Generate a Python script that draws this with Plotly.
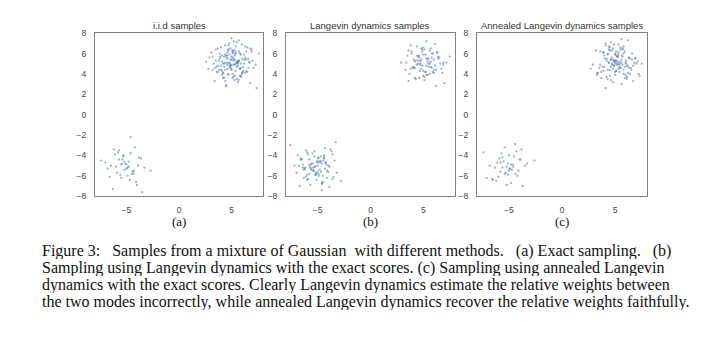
import plotly.graph_objects as go

# ---- data (read/estimated from the picture) ----
iid_big_x = [5.1,4.2,6.2,4.7,5.5,3.5,5.9,4.8,5.0,6.7,4.4,5.3,3.9,5.7,4.6,7.1,4.1,5.2,6.0,3.2,5.4,4.9,5.6,4.3,6.4,3.7,5.8,4.5,5.2,2.8,
 5.3,6.1,4.0,5.5,4.7,6.6,3.6,5.1,4.4,5.9,5.0,4.6,6.3,3.4,5.4,4.9,5.7,4.2,6.9,3.8,5.2,4.5,5.6,6.0,4.1,5.3,4.8,7.4,3.1,5.8,
 4.6,5.1,6.5,4.3,5.5,3.9,5.0,6.2,4.7,5.4,2.6,5.9,4.4,6.8,5.2,4.0,5.7,3.3,6.1,4.8,5.3,4.5,6.4,3.7,5.6,4.9,7.0,4.2,5.1,5.8,
 4.6,6.3,3.5,5.4,4.1,5.0,6.6,4.7,5.5,3.8,6.0,4.4,5.2,7.3,4.9,5.7,3.6,6.2,4.3,5.3,4.8,5.9,2.9,5.1,6.5,4.0,5.6,4.5,6.9,5.0,
 4.2,5.4,6.1,3.9,5.8,4.7,5.2,6.7,3.4,5.5,4.6,6.0,4.1,5.3,7.6,4.8,5.7,3.2,6.3,4.4,5.1,5.9,4.9,6.4,3.7,5.0,4.3,5.6,6.8,4.6]
iid_big_y = [5.6,4.1,5.0,6.3,4.7,5.3,3.8,5.9,4.4,5.1,6.8,4.9,5.5,3.4,6.1,4.6,5.2,7.2,4.0,5.7,4.3,6.5,5.0,3.6,5.4,4.8,6.0,2.9,5.3,4.5,
 5.8,4.2,6.6,5.1,3.9,5.5,4.7,6.2,4.4,5.0,7.5,4.9,5.6,3.3,6.0,4.6,5.2,4.1,6.4,5.3,3.7,5.8,4.8,6.9,4.3,5.4,5.0,2.6,6.1,4.5,
 5.1,6.3,4.2,5.7,3.5,6.0,4.9,5.4,4.0,6.7,5.2,4.6,5.9,3.1,5.5,4.4,6.2,5.0,4.7,7.0,3.8,5.6,4.3,6.5,5.1,4.8,5.3,3.6,6.1,4.5,
 5.8,4.1,6.4,5.0,3.9,5.7,4.6,6.8,5.2,4.4,5.5,3.3,6.0,4.9,5.4,7.3,4.2,5.9,4.7,6.3,5.1,3.7,5.6,4.0,6.6,4.8,5.3,2.8,6.2,4.5,
 5.0,6.1,4.3,5.7,3.8,6.4,4.9,5.2,4.6,7.1,5.5,4.1,5.8,3.4,6.0,4.7,5.3,4.4,6.7,5.1,3.6,5.9,4.8,6.2,4.2,5.4,5.0,3.2,6.5,4.5]
iid_small_x = [-5.2,-4.3,-6.1,-4.8,-5.5,-3.6,-5.9,-4.6,-5.0,-6.8,-4.1,-5.3,-3.9,-5.7,-4.5,-7.0,-4.9,-5.4,-3.3,-6.3,
 -5.1,-4.4,-5.8,-4.7,-6.5,-3.8,-5.6,-4.2,-5.2,-7.4,-4.0,-5.5,-6.0,-4.6,-2.7,-5.3,-6.6,-4.8,-5.0,-3.5,-5.7,-4.3,-6.2,-4.9,-5.4]
iid_small_y = [-4.6,-5.5,-3.9,-5.1,-6.2,-4.3,-5.7,-2.2,-4.9,-5.3,-6.6,-4.1,-5.0,-3.5,-5.8,-4.7,-6.0,-4.4,-5.2,-7.3,
 -4.8,-5.6,-3.7,-6.4,-5.0,-4.2,-5.9,-3.2,-5.4,-4.5,-6.9,-4.9,-5.1,-3.8,-5.5,-4.0,-6.1,-4.6,-5.3,-7.6,-4.4,-5.8,-3.4,-5.2,-4.8]

lang_big_x = [5.3,4.5,6.0,4.9,5.6,3.8,6.4,4.2,5.1,6.9,4.7,5.4,3.5,5.8,4.4,7.2,5.0,4.6,6.2,3.9,
 5.5,4.1,5.9,4.8,6.6,3.3,5.2,4.3,5.7,6.1,4.9,5.4,3.7,6.3,4.5,5.0,7.5,4.0,5.6,4.7,
 5.2,6.5,3.6,5.8,4.4,6.0,4.8,5.3,2.9,6.8,4.6,5.1,3.9,5.7,4.2,6.2,5.0,4.5,7.0,5.5,
 4.1,5.9,4.7,6.4,3.4,5.3,4.9,6.1,4.3,5.6,5.0,6.7,3.8,5.4,4.6,5.8,4.0,6.3,5.2,4.8,
 5.5,3.6,6.0,4.4,5.1,6.9,4.7,5.7,4.2,5.3]
lang_big_y = [4.8,5.7,4.1,6.2,5.0,4.5,5.5,3.6,6.4,4.9,5.3,3.9,5.8,4.6,6.7,5.1,4.3,5.6,2.8,6.0,
 4.7,5.4,4.2,6.5,5.0,4.4,5.9,3.5,5.2,6.9,4.8,5.5,4.0,6.1,5.3,3.8,5.7,4.6,6.3,5.0,
 4.2,5.6,3.3,6.0,4.9,5.4,4.5,7.2,5.1,4.1,5.8,3.7,6.2,4.7,5.2,4.4,6.6,5.0,3.1,5.5,
 4.6,6.0,4.3,5.7,5.1,3.9,6.4,4.8,5.3,4.0,5.9,4.5,6.8,5.2,3.6,5.6,4.7,6.1,4.2,5.4,
 5.0,6.3,4.4,5.8,3.4,5.1,4.9,6.5,4.6,5.5]
lang_small_x = [-5.2,-4.4,-6.0,-4.8,-5.6,-3.7,-6.3,-4.2,-5.0,-6.9,-4.6,-5.4,-3.4,-5.8,-4.3,-7.2,-5.1,-4.7,-6.2,-3.9,
 -5.5,-4.1,-5.9,-4.9,-6.6,-3.2,-5.3,-4.5,-5.7,-6.1,-4.8,-5.0,-3.6,-6.4,-4.4,-5.2,-7.6,-4.0,-5.6,-4.6,
 -5.3,-6.5,-3.5,-5.8,-4.3,-6.0,-4.9,-5.1,-2.8,-6.8,-4.7,-5.4,-3.8,-5.7,-4.2,-6.2,-5.0,-4.5,-7.0,-5.5,
 -4.0,-5.9,-4.8,-6.3,-3.3,-5.2,-4.6,-6.1,-4.4,-5.6,-5.0,-6.7,-3.9,-5.3,-4.7,-5.8,-4.1,-6.4,-5.1,-4.9,
 -5.4,-3.6,-6.0,-4.3,-5.0,-6.6,-4.6,-5.7,-4.5,-5.2]
lang_small_y = [-5.1,-4.3,-5.9,-4.7,-5.4,-3.6,-6.2,-4.9,-5.6,-4.0,-6.7,-5.2,-4.5,-5.8,-3.3,-5.0,-6.4,-4.6,-5.3,-7.1,
 -4.8,-5.5,-3.9,-6.0,-4.4,-5.7,-4.1,-6.6,-5.0,-3.5,-5.4,-4.7,-6.3,-5.2,-4.2,-5.9,-3.0,-5.6,-4.8,-7.4,
 -5.1,-4.4,-6.1,-4.9,-5.3,-3.7,-5.8,-4.6,-6.5,-5.0,-4.1,-5.5,-3.4,-6.9,-4.7,-5.2,-4.3,-6.0,-5.7,-3.8,
 -5.0,-6.3,-4.5,-5.4,-2.7,-5.9,-4.8,-6.1,-4.0,-5.3,-4.6,-7.0,-5.1,-3.6,-5.6,-4.4,-6.2,-4.9,-5.8,-4.2,
 -5.5,-3.9,-6.4,-4.7,-5.0,-4.3,-6.8,-5.2,-4.5,-5.7]

ann_big_x = [4.9,5.8,4.3,6.1,5.2,3.7,5.6,4.5,6.5,5.0,4.1,5.4,6.9,4.7,5.3,3.3,6.0,4.8,5.5,4.4,
 7.2,5.1,4.0,5.7,4.6,6.3,3.9,5.2,4.9,6.7,5.4,4.2,5.9,3.5,5.0,6.2,4.6,5.6,2.9,6.0,
 4.8,5.3,4.3,6.6,5.1,3.8,5.7,4.5,6.4,5.0,7.5,4.1,5.5,4.7,6.1,3.6,5.2,4.9,5.8,4.4,
 6.8,5.3,4.0,5.6,3.2,6.2,4.8,5.1,4.6,7.0,5.4,4.3,5.9,3.9,6.5,5.0,4.5,5.7,4.2,6.0,
 5.2,3.4,5.5,4.7,6.3,5.0,4.1,5.8,4.9,6.9,3.7,5.3,4.4,6.1,5.6,2.7,5.1,4.6,6.4,5.4,
 4.8,5.9,4.2,6.7,5.0,3.6,5.7,4.5,6.2,5.2,7.3,4.0,5.5,4.7,6.0,3.3,5.3,4.9,5.8,4.3,
 6.6,5.1,3.9,5.6,4.6,6.3,5.0,4.4,5.4,7.1]
ann_big_y = [5.2,4.4,6.0,4.8,5.7,3.6,5.4,6.3,4.6,5.0,7.0,4.2,5.5,4.9,6.1,3.9,5.3,4.5,6.6,5.1,
 4.0,5.8,4.7,6.4,3.4,5.6,4.3,5.0,6.9,4.8,5.2,3.7,6.2,4.6,5.9,4.1,5.4,7.4,4.9,5.1,
 3.2,5.7,4.4,6.0,5.3,4.7,6.5,3.8,5.5,4.2,5.0,6.8,4.6,5.6,3.5,6.2,4.9,5.3,4.0,6.7,
 5.1,4.5,5.8,3.0,6.3,4.8,5.4,4.3,7.1,5.0,4.7,5.9,3.6,6.1,4.4,5.2,6.6,4.9,5.5,3.9,
 5.7,4.1,6.4,5.0,4.6,5.3,2.6,6.0,4.8,5.6,4.2,6.9,5.1,3.7,5.8,4.5,6.2,5.4,4.0,5.0,
 6.5,4.7,5.3,3.3,6.0,4.9,5.7,4.4,7.3,5.2,3.8,5.5,4.6,6.3,5.0,4.1,5.9,4.8,6.7,3.5,
 5.4,4.3,6.1,5.1,4.7,5.6,3.9,6.4,4.9,5.2]
ann_small_x = [-4.9,-5.6,-4.2,-6.1,-5.0,-3.8,-5.4,-4.6,-6.5,-5.2,-4.0,-5.8,-4.4,-7.1,-5.1,-3.5,-5.7,-4.8,-6.3,-2.6,
 -5.3,-4.5,-6.0,-4.9,-5.5,-3.7,-6.8,-4.3,-5.1,-5.9,-4.7,-6.2,-3.3,-5.4,-4.1,-5.0,-6.6,-4.6,-5.8,-4.4,-7.4,-5.2,-3.9,-5.6,-4.8]
ann_small_y = [-5.3,-4.2,-6.0,-4.7,-5.5,-3.4,-5.8,-4.9,-6.4,-5.1,-4.4,-5.6,-2.9,-6.2,-4.8,-5.0,-3.8,-6.7,-5.2,-4.5,
 -5.7,-4.1,-6.1,-5.3,-4.6,-7.0,-5.0,-3.6,-5.9,-4.3,-5.4,-6.5,-4.8,-3.2,-5.5,-4.0,-6.3,-5.1,-4.7,-5.8,-3.7,-6.9,-4.4,-5.2,-4.9]

titles = ["i.i.d samples", "Langevin dynamics samples", "Annealed Langevin dynamics samples"]
sublabels = ["(a)", "(b)", "(c)"]
x_ticks = [-5, 0, 5]
y_ticks = [-8, -6, -4, -2, 0, 2, 4, 6, 8]
caption_lines = [
    "Figure 3:&nbsp;&nbsp; Samples from a mixture of Gaussian&nbsp; with different methods.&nbsp;&nbsp; (a) Exact sampling.&nbsp;&nbsp; (b)",
    "Sampling using Langevin dynamics with the exact scores. (c) Sampling using annealed Langevin",
    "dynamics with the exact scores. Clearly Langevin dynamics estimate the relative weights between",
    "the two modes incorrectly, while annealed Langevin dynamics recover the relative weights faithfully.",
]
caption_sizes = [16, 16, 16, 16]

panels = [
    (iid_big_x + iid_small_x, iid_big_y + iid_small_y),
    (lang_big_x + lang_small_x, lang_big_y + lang_small_y),
    (ann_big_x + ann_small_x, ann_big_y + ann_small_y),
]

W, H = 720, 340
x_px = [(95, 263), (286, 455), (477, 647)]
y_px = (29, 197)

fig = go.Figure()
ydom = [1 - y_px[1] / H, 1 - y_px[0] / H]
for i, (px, py) in enumerate(panels):
    n = "" if i == 0 else str(i + 1)
    fig.add_trace(go.Scatter(
        x=px, y=py, mode="markers", xaxis="x" + n, yaxis="y" + n,
        marker=dict(size=2.3, color="rgba(76,114,176,0.55)", line=dict(width=0)),
        showlegend=False, hoverinfo="skip"))
    axstyle = dict(range=[-8, 8], showgrid=False, zeroline=False, showline=True,
                   mirror=True, linecolor="#808080", linewidth=1.3,
                   ticks="", tickfont=dict(family="Liberation Sans", size=8.5, color="#444"),
                   fixedrange=True)
    fig.update_layout(**{
        "xaxis" + n: dict(axstyle, domain=[x_px[i][0] / W, x_px[i][1] / W],
                          anchor="y" + n, tickvals=x_ticks, ticklabelstandoff=5),
        "yaxis" + n: dict(axstyle, domain=ydom, anchor="x" + n,
                          tickvals=y_ticks, ticklabelstandoff=6),
    })
    cx = (x_px[i][0] + x_px[i][1]) / 2 / W
    fig.add_annotation(x=cx, y=1 - 21 / H, xref="paper", yref="paper",
                       xanchor="center", yanchor="middle",
                       text=titles[i], showarrow=False,
                       font=dict(family="Liberation Sans", size=9.5, color="#333"))
    fig.add_annotation(x=cx, y=1 - 223 / H, xref="paper", yref="paper",
                       xanchor="center", yanchor="middle",
                       text=sublabels[i], showarrow=False,
                       font=dict(family="Liberation Serif", size=13, color="#111"))

for j, line in enumerate(caption_lines):
    fig.add_annotation(x=41 / W, y=1 - (253 + 17.5 * j) / H, xref="paper", yref="paper",
                       xanchor="left", yanchor="middle", text=line, showarrow=False,
                       height=16, borderpad=0,
                       font=dict(family="Liberation Serif", size=caption_sizes[j], color="#111"))

fig.update_layout(width=W, height=H, margin=dict(l=0, r=0, t=0, b=0),
                  paper_bgcolor="white", plot_bgcolor="white")
fig.write_html("out.html")
